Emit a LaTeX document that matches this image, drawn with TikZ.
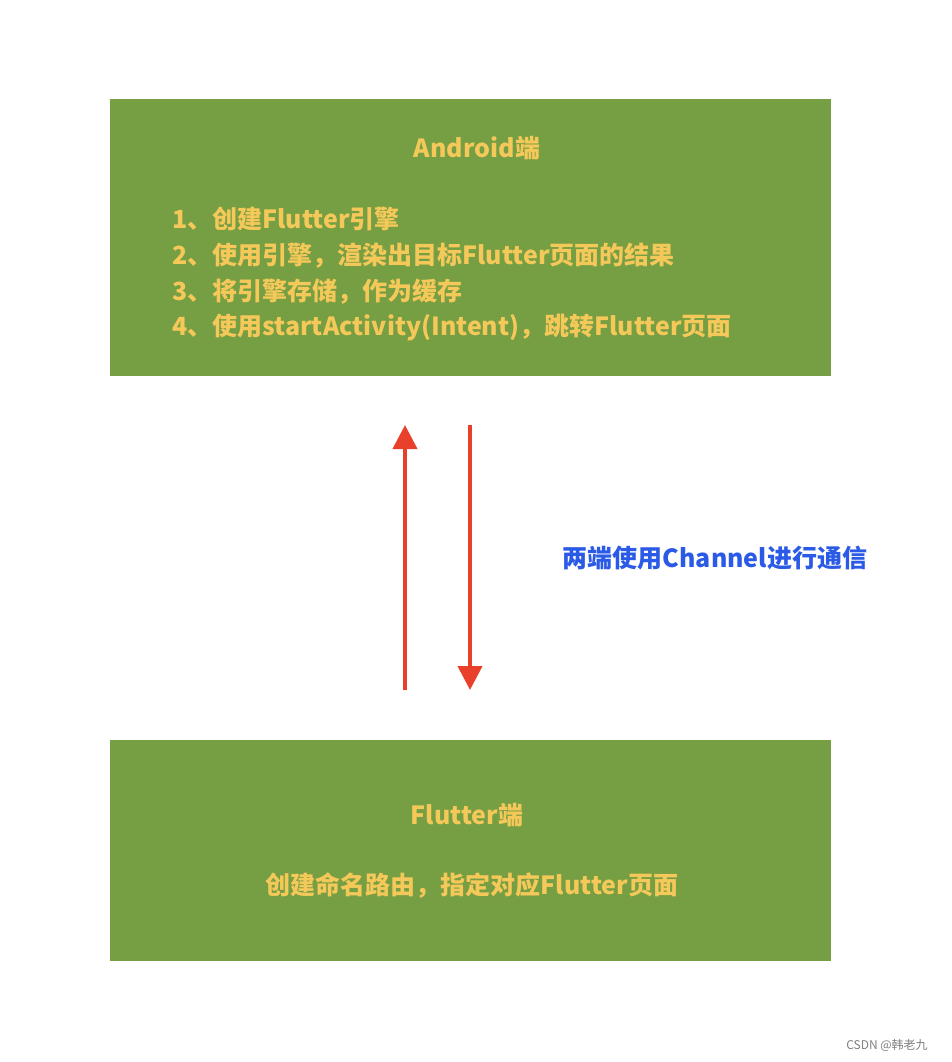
\documentclass[tikz,border=0pt]{standalone}
\usepackage{fontspec}
\setmainfont{Noto Sans CJK SC}
\usetikzlibrary{arrows.meta}
\definecolor{boxg}{HTML}{769E43}
\definecolor{ytxt}{HTML}{F5C85A}
\definecolor{redar}{HTML}{E8402A}
\definecolor{bluet}{HTML}{2B5BE6}
\begin{document}
\begin{tikzpicture}[x=1pt,y=-1pt,
  box/.style={fill=boxg,draw=none},
  ytext/.style={text=ytxt,font=\fontsize{25}{30}\selectfont\bfseries,inner sep=0},
  arr/.style={draw=redar,line width=4pt,-{Triangle[length=24pt,width=24pt]}}]
\useasboundingbox (0,0) rectangle (952,1062);
\fill[white] (0,0) rectangle (952,1062);
\path[box] (110,99) rectangle (831,376);
\path[box] (110,740) rectangle (831,961);
\node[ytext] (atitle) at (477,148) {Android端};
\node[ytext,anchor=west] (l1) at (172,219) {1、创建Flutter引擎};
\node[ytext,anchor=west] (l2) at (172,256) {2、使用引擎，渲染出目标Flutter页面的结果};
\node[ytext,anchor=west] (l3) at (172,292) {3、将引擎存储，作为缓存};
\node[ytext,anchor=west] (l4) at (172,328) {4、使用startActivity(Intent)，跳转Flutter页面};
\node[ytext] (ftitle) at (467,815) {Flutter端};
\node[ytext] (fl) at (472,886) {创建命名路由，指定对应Flutter页面};
\coordinate (u1) at (405,690); \coordinate (u2) at (405,425);
\coordinate (d1) at (470,425); \coordinate (d2) at (470,690);
\draw[arr] (u1) -- (u2);
\draw[arr] (d1) -- (d2);
\node[text=bluet,font=\fontsize{25}{30}\selectfont\bfseries,inner sep=0] (lab) at (715,558) {两端使用Channel进行通信};
\node[text=gray,font=\fontsize{12}{14}\selectfont,inner sep=0] (wm) at (887,1045) {CSDN @韩老九};
\end{tikzpicture}
\end{document}
